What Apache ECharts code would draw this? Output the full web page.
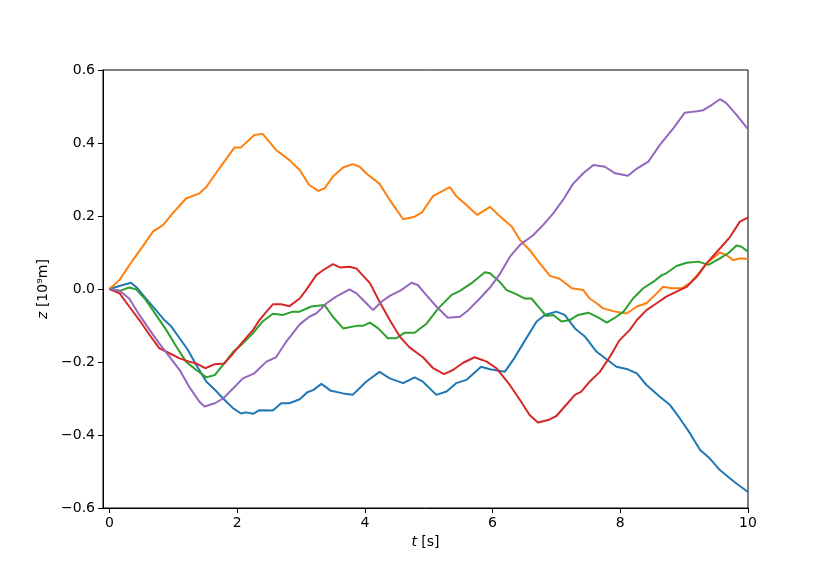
<!DOCTYPE html>
<html>
<head>
<meta charset="utf-8">
<script src="https://cdn.jsdelivr.net/npm/echarts@6/dist/echarts.min.js"></script>
<style>
  html, body { margin: 0; padding: 0; background: #fff; }
  #chart { width: 830px; height: 581px; }
</style>
</head>
<body>
<div id="chart"></div>
<script>
// [t, z] 读数
const blueData = [
  [0, 0], [0.21, 0.011], [0.34, 0.017], [0.44, 0.002], [0.57, -0.026], [0.73, -0.058],
  [0.86, -0.085], [0.97, -0.103], [1.10, -0.135], [1.23, -0.167], [1.36, -0.208],
  [1.52, -0.254], [1.68, -0.281], [1.78, -0.300], [1.94, -0.327], [2.06, -0.341],
  [2.14, -0.338], [2.25, -0.342], [2.35, -0.332], [2.56, -0.333], [2.69, -0.313],
  [2.82, -0.313], [2.98, -0.302], [3.10, -0.283], [3.19, -0.277], [3.32, -0.260],
  [3.47, -0.279], [3.66, -0.286], [3.81, -0.290], [4.02, -0.254], [4.23, -0.227],
  [4.39, -0.245], [4.60, -0.258], [4.78, -0.242], [4.91, -0.254], [5.12, -0.290],
  [5.28, -0.281], [5.43, -0.258], [5.59, -0.249], [5.82, -0.213], [5.96, -0.220],
  [6.19, -0.227], [6.32, -0.195], [6.48, -0.149], [6.69, -0.089], [6.82, -0.071],
  [7.00, -0.062], [7.13, -0.071], [7.29, -0.108], [7.45, -0.131], [7.63, -0.172],
  [7.79, -0.193], [7.94, -0.213], [8.10, -0.219], [8.26, -0.231], [8.41, -0.263],
  [8.62, -0.295], [8.78, -0.318], [8.93, -0.354], [9.09, -0.395], [9.25, -0.441],
  [9.40, -0.464], [9.56, -0.496], [9.72, -0.519], [9.85, -0.537], [10.0, -0.556]
];
const orangeData = [
  [0, 0], [0.16, 0.025], [0.37, 0.080], [0.52, 0.116], [0.68, 0.157], [0.84, 0.175],
  [0.99, 0.207], [1.20, 0.248], [1.41, 0.262], [1.52, 0.280], [1.72, 0.330],
  [1.96, 0.388], [2.06, 0.388], [2.27, 0.422], [2.40, 0.425], [2.61, 0.381],
  [2.82, 0.353], [2.98, 0.326], [3.13, 0.285], [3.27, 0.269], [3.37, 0.276],
  [3.50, 0.308], [3.66, 0.333], [3.81, 0.342], [3.92, 0.335], [4.02, 0.317],
  [4.23, 0.288], [4.39, 0.244], [4.60, 0.191], [4.78, 0.198], [4.89, 0.209],
  [5.07, 0.255], [5.20, 0.267], [5.33, 0.279], [5.43, 0.255], [5.59, 0.230],
  [5.76, 0.203], [5.96, 0.225], [6.11, 0.200], [6.30, 0.171], [6.43, 0.134],
  [6.58, 0.107], [6.74, 0.070], [6.90, 0.036], [7.05, 0.028], [7.24, 0.002],
  [7.42, -0.003], [7.52, -0.026], [7.63, -0.039], [7.73, -0.053], [7.92, -0.062],
  [8.10, -0.067], [8.26, -0.048], [8.41, -0.039], [8.57, -0.012], [8.67, 0.006],
  [8.80, 0.002], [8.96, 0.002], [9.09, 0.016], [9.25, 0.047], [9.35, 0.070],
  [9.56, 0.100], [9.66, 0.093], [9.77, 0.079], [9.87, 0.084], [10.0, 0.082]
];
const greenData = [
  [0, 0], [0.16, -0.005], [0.31, 0.004], [0.42, -0.001], [0.57, -0.030], [0.73, -0.071],
  [0.89, -0.112], [1.05, -0.158], [1.20, -0.199], [1.36, -0.222], [1.52, -0.242],
  [1.65, -0.236], [1.78, -0.208], [1.94, -0.172], [2.09, -0.149], [2.25, -0.121],
  [2.40, -0.089], [2.56, -0.068], [2.72, -0.071], [2.87, -0.062], [2.98, -0.062],
  [3.16, -0.048], [3.37, -0.044], [3.50, -0.076], [3.66, -0.108], [3.87, -0.101],
  [3.97, -0.101], [4.08, -0.092], [4.21, -0.108], [4.36, -0.135], [4.49, -0.135],
  [4.62, -0.120], [4.78, -0.120], [4.96, -0.096], [5.15, -0.053], [5.36, -0.016],
  [5.49, -0.005], [5.67, 0.016], [5.88, 0.046], [5.96, 0.043], [6.11, 0.020],
  [6.22, -0.003], [6.37, -0.014], [6.50, -0.026], [6.61, -0.026], [6.74, -0.053],
  [6.84, -0.074], [6.95, -0.071], [7.08, -0.089], [7.21, -0.085], [7.34, -0.071],
  [7.50, -0.065], [7.65, -0.078], [7.79, -0.092], [7.94, -0.076], [8.05, -0.062],
  [8.20, -0.026], [8.36, 0.002], [8.52, 0.020], [8.65, 0.038], [8.72, 0.043],
  [8.88, 0.063], [9.04, 0.072], [9.22, 0.075], [9.38, 0.066], [9.56, 0.084],
  [9.69, 0.098], [9.82, 0.119], [9.90, 0.116], [10.0, 0.102]
];
const redData = [
  [0, 0], [0.16, -0.012], [0.31, -0.048], [0.47, -0.085], [0.63, -0.126], [0.78, -0.162],
  [0.94, -0.176], [1.10, -0.190], [1.25, -0.199], [1.36, -0.204], [1.50, -0.217],
  [1.65, -0.206], [1.80, -0.204], [1.94, -0.176], [2.09, -0.144], [2.25, -0.112],
  [2.35, -0.085], [2.46, -0.062], [2.56, -0.042], [2.69, -0.042], [2.82, -0.047],
  [2.98, -0.026], [3.08, -0.003], [3.24, 0.038], [3.35, 0.052], [3.50, 0.068],
  [3.61, 0.059], [3.76, 0.061], [3.87, 0.056], [4.08, 0.016], [4.23, -0.035],
  [4.39, -0.085], [4.55, -0.131], [4.70, -0.160], [4.91, -0.187], [5.07, -0.217],
  [5.24, -0.233], [5.38, -0.222], [5.54, -0.202], [5.72, -0.187], [5.91, -0.199],
  [6.06, -0.217], [6.27, -0.263], [6.43, -0.304], [6.58, -0.345], [6.71, -0.366],
  [6.87, -0.359], [7.00, -0.348], [7.13, -0.322], [7.29, -0.290], [7.39, -0.281],
  [7.52, -0.254], [7.68, -0.227], [7.84, -0.185], [7.99, -0.140], [8.15, -0.112],
  [8.26, -0.085], [8.41, -0.058], [8.57, -0.039], [8.72, -0.021], [8.88, -0.007],
  [9.04, 0.006], [9.20, 0.034], [9.35, 0.070], [9.56, 0.111], [9.72, 0.143],
  [9.87, 0.184], [10.0, 0.196]
];
const purpleData = [
  [0, 0], [0.16, -0.005], [0.31, -0.026], [0.47, -0.071], [0.63, -0.112], [0.78, -0.149],
  [0.94, -0.185], [1.10, -0.222], [1.25, -0.268], [1.41, -0.309], [1.49, -0.322],
  [1.65, -0.313], [1.78, -0.300], [1.94, -0.272], [2.09, -0.245], [2.27, -0.231],
  [2.46, -0.199], [2.61, -0.187], [2.77, -0.144], [2.98, -0.097], [3.13, -0.076],
  [3.24, -0.067], [3.40, -0.039], [3.55, -0.021], [3.76, -0.001], [3.87, -0.012],
  [4.00, -0.035], [4.13, -0.058], [4.26, -0.035], [4.39, -0.019], [4.57, -0.003],
  [4.73, 0.017], [4.83, 0.011], [4.96, -0.016], [5.12, -0.048], [5.30, -0.079],
  [5.49, -0.076], [5.62, -0.058], [5.80, -0.026], [5.96, 0.004], [6.11, 0.040],
  [6.27, 0.088], [6.43, 0.121], [6.64, 0.148], [6.79, 0.175], [6.95, 0.207],
  [7.11, 0.246], [7.26, 0.288], [7.42, 0.317], [7.58, 0.340], [7.76, 0.335],
  [7.92, 0.317], [8.12, 0.310], [8.26, 0.330], [8.44, 0.349], [8.62, 0.395],
  [8.83, 0.440], [9.01, 0.483], [9.17, 0.486], [9.30, 0.490], [9.43, 0.504],
  [9.56, 0.520], [9.66, 0.509], [9.82, 0.477], [10.0, 0.438]
];
const xTicks = [0, 2, 4, 6, 8, 10];

const font = 'DejaVu Sans';
const chart = echarts.init(document.getElementById('chart'));

const line = (data, color) => ({
  type: 'line',
  data: data,
  showSymbol: false,
  smooth: false,
  lineStyle: { color: color, width: 2 },
  itemStyle: { color: color },
  animation: false
});

chart.setOption({
  animation: false,
  grid: { left: 103, right: 82, top: 70, bottom: 73, show: true, borderColor: '#000', borderWidth: 1 },
  xAxis: {
    type: 'value',
    min: -0.1,
    max: 10,
    name: '{i|t} [s]',
    nameLocation: 'middle',
    nameGap: 24,
    nameTextStyle: {
      fontFamily: font, fontSize: 14, color: '#000',
      rich: { i: { fontFamily: font, fontSize: 14, fontStyle: 'italic', color: '#000' } }
    },
    axisLine: { onZero: false, lineStyle: { color: '#000', width: 1 } },
    axisTick: { show: true, inside: false, length: 5, customValues: xTicks, lineStyle: { color: '#000' } },
    axisLabel: { customValues: xTicks, fontFamily: font, fontSize: 14, color: '#000', margin: 8 },
    splitLine: { show: false }
  },
  yAxis: {
    type: 'value',
    min: -0.6,
    max: 0.6,
    interval: 0.2,
    name: '{i|z} [10\u2079m]',
    nameLocation: 'middle',
    nameGap: 53,
    nameRotate: 90,
    nameTextStyle: {
      fontFamily: font, fontSize: 14, color: '#000',
      rich: { i: { fontFamily: font, fontSize: 14, fontStyle: 'italic', color: '#000' } }
    },
    axisLine: { show: true, onZero: false, lineStyle: { color: '#000', width: 1 } },
    axisTick: { show: true, inside: false, length: 5, lineStyle: { color: '#000' } },
    axisLabel: {
      fontFamily: font, fontSize: 14, color: '#000', margin: 8,
      formatter: v => (Math.round(v * 10) / 10).toFixed(1).replace('-', '\u2212')
    },
    splitLine: { show: false }
  },
  series: [
    line(blueData, '#1f77b4'),
    line(orangeData, '#ff7f0e'),
    line(greenData, '#2ca02c'),
    line(redData, '#d62728'),
    line(purpleData, '#9467bd')
  ]
});
</script>
</body>
</html>
